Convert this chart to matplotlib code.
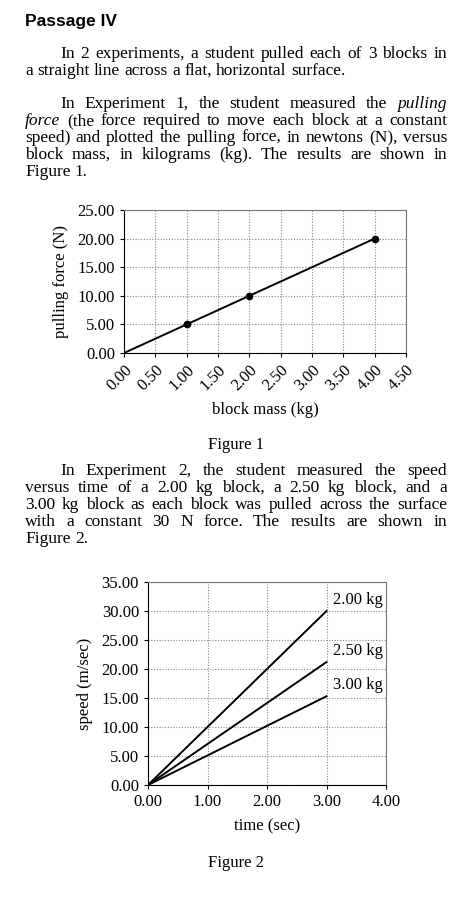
import matplotlib
matplotlib.use("Agg")
import matplotlib.pyplot as plt

# Figure 1 data
mass = [0.0, 1.0, 2.0, 4.0]
force = [0.0, 5.0, 10.0, 20.0]
mass_ticks = [0, 0.5, 1, 1.5, 2, 2.5, 3, 3.5, 4, 4.5]
force_ticks = [0, 5, 10, 15, 20, 25]

# Figure 2 data
time = [0.0, 3.0]
speed_labels = ["2.00 kg", "2.50 kg", "3.00 kg"]
speed_series = [[0.0, 30.0], [0.0, 21.2], [0.0, 15.3]]
time_ticks = [0, 1, 2, 3, 4]
speed_ticks = [0, 5, 10, 15, 20, 25, 30, 35]

SERIF = "Liberation Serif"
W, H = 474, 899
fig = plt.figure(figsize=(W / 100, H / 100), dpi=100)
plt.rcParams['font.family'] = SERIF

# passage text: (text, justify, left_px, baseline_px)
lines = [
    ("In 2 experiments, a student pulled each of 3 blocks in", True, 60, 58),
    ("a straight line across a flat, horizontal surface.", False, 25, 75),
    ("In Experiment 1, the student measured the *pulling*", True, 60, 108),
    ("*force* (the force required to move each block at a constant", True, 25, 125),
    ("speed) and plotted the pulling force, in newtons (N), versus", True, 25, 142),
    ("block mass, in kilograms (kg). The results are shown in", True, 25, 159),
    ("Figure 1.", False, 25, 176),
    ("In Experiment 2, the student measured the speed", True, 60, 475),
    ("versus time of a 2.00 kg block, a 2.50 kg block, and a", True, 25, 492),
    ("3.00 kg block as each block was pulled across the surface", True, 25, 509),
    ("with a constant 30 N force. The results are shown in", True, 25, 526),
    ("Figure 2.", False, 25, 543),
]
RIGHT = 447
FS = 12.5

fig.text(25 / W, 1 - 26 / H, "Passage IV", fontsize=12.5, fontweight="bold",
         family="Liberation Sans")

renderer = fig.canvas.get_renderer()


def word_width(word, style):
    t = fig.text(0, 0, word, fontsize=FS, style=style)
    w = t.get_window_extent(renderer).width
    t.remove()
    return w


space_w = word_width("a b", "normal") - word_width("ab", "normal")

for text, justify, left, base in lines:
    words = []
    for w in text.split(" "):
        style = "normal"
        if w.startswith("*"):
            style = "italic"
            w = w.strip("*")
        words.append((w, style, word_width(w, style)))
    total = sum(w[2] for w in words)
    gap = space_w
    if justify and len(words) > 1:
        gap = (RIGHT - left - total) / (len(words) - 1)
    x = left
    for w, style, ww in words:
        fig.text(x / W, 1 - base / H, w, fontsize=FS, style=style, va="baseline")
        x += ww + gap


def style_axes(ax):
    ax.grid(True, color="#888888", linestyle=(0, (1, 1.5)), linewidth=0.8)
    ax.set_axisbelow(True)
    for s in ax.spines.values():
        s.set_linewidth(0.8)
    ax.spines["top"].set_color("#777777")
    ax.spines["right"].set_color("#777777")
    ax.tick_params(labelsize=12, length=3, width=0.8)


# Figure 1
ax1 = fig.add_axes([124 / W, 1 - 353 / H, (406 - 124) / W, (353 - 210) / H])
ax1.plot(mass, force, color="black", linewidth=1.4)
ax1.plot(mass[1:], force[1:], "o", color="black", markersize=4.5)
ax1.set_xlim(0, 4.5)
ax1.set_ylim(0, 25)
ax1.set_xticks(mass_ticks)
ax1.set_xticklabels([f"{v:.2f}" for v in mass_ticks], rotation=45, ha="right",
                    rotation_mode="anchor")
ax1.set_yticks(force_ticks)
ax1.set_yticklabels([f"{v:.2f}" for v in force_ticks])
ax1.set_xlabel("block mass (kg)", fontsize=12, labelpad=6)
ax1.set_ylabel("pulling force (N)", fontsize=12, labelpad=6)
style_axes(ax1)
fig.text(236 / W, 1 - 449 / H, "Figure 1", fontsize=12, ha="center")

# Figure 2
ax2 = fig.add_axes([148 / W, 1 - 785 / H, (386 - 148) / W, (785 - 582) / H])
for label, sp in zip(speed_labels, speed_series):
    ax2.plot(time, sp, color="black", linewidth=1.4)
    ax2.annotate(label, (time[-1], sp[-1]), xytext=(5, 8), textcoords="offset points",
                 fontsize=12, va="center", ha="left")
ax2.set_xlim(0, 4)
ax2.set_ylim(0, 35)
ax2.set_xticks(time_ticks)
ax2.set_xticklabels([f"{v:.2f}" for v in time_ticks])
ax2.set_yticks(speed_ticks)
ax2.set_yticklabels([f"{v:.2f}" for v in speed_ticks])
ax2.set_xlabel("time (sec)", fontsize=12, labelpad=6)
ax2.set_ylabel("speed (m/sec)", fontsize=12, labelpad=6)
style_axes(ax2)
fig.text(236 / W, 1 - 867 / H, "Figure 2", fontsize=12, ha="center")

fig.savefig("out.png", dpi=100, facecolor="white")
